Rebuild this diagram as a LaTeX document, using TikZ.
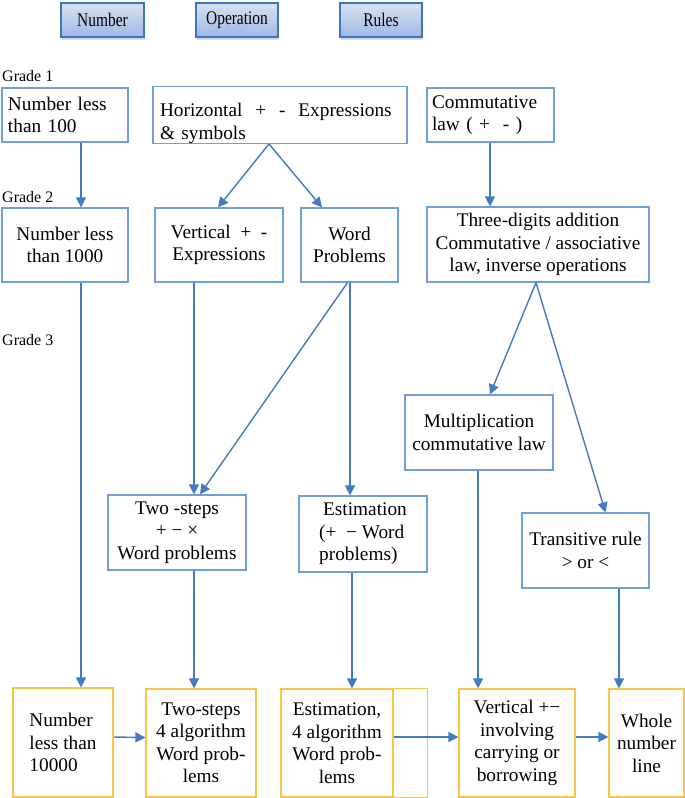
\documentclass[tikz,border=0pt]{standalone}
\usepackage{fontspec}
\setmainfont{Liberation Serif}
\usetikzlibrary{arrows.meta,shadows}
\definecolor{boxblue}{RGB}{112,160,216}
\definecolor{arrblue}{RGB}{68,122,192}
\definecolor{boxorange}{RGB}{250,196,72}
\definecolor{headtop}{RGB}{214,226,244}
\definecolor{headbot}{RGB}{160,184,226}
\definecolor{headline}{RGB}{58,118,188}
\begin{document}
\begin{tikzpicture}[x=1pt,y=-1pt,
    font=\fontsize{19.3}{22.5}\selectfont,
    head/.style={draw=headline,line width=2.5pt,top color=headtop,bottom color=headbot,
        minimum width=82pt,minimum height=34pt,inner sep=0pt,
        drop shadow={shadow xshift=1pt,shadow yshift=-3pt,opacity=0.3}},
    bbox/.style={draw=boxblue,line width=1.2pt,inner sep=0pt,align=center},
    ybox/.style={draw=boxorange,line width=1.2pt,inner sep=0pt,align=center},
    grade/.style={font=\fontsize{16}{18}\selectfont,anchor=west,inner sep=0pt},
    arr/.style={draw=arrblue,line width=1.4pt,-{Triangle[length=10pt,width=10pt]}}
]
\useasboundingbox (0,0) rectangle (685,798);

\node[head,minimum width=83pt] (hnum) at (102.5,20) {\scalebox{0.8}[1]{Number}};
\node[head] (hop) at (237,20) {\scalebox{0.8}[1]{Operation}};
\node[head] (hrul) at (381,20) {\scalebox{0.8}[1]{Rules}};

\node[grade] (g1) at (2,76) {Grade 1};
\node[grade] (g2) at (2,197) {Grade 2};
\node[grade] (g3) at (2,340) {Grade 3};

\node[bbox,align=left,inner xsep=6pt,text width=114pt,minimum height=54pt] (n100) at (65,115) {Number less\\than 100};
\node[bbox,align=left,inner xsep=7pt,text width=240pt,minimum height=54pt] (horiz) at (280,115) {\rule{0pt}{30pt}Horizontal\ \ +\ \ -\ \ Expressions\\\&\ symbols};
\node[bbox,align=left,inner xsep=5pt,text width=117pt,minimum height=54pt] (comm) at (490.5,115) {Commutative\\law ( +\ \ - )};

\node[bbox,minimum width=126pt,minimum height=74pt] (n1000) at (65,245) {Number less\\than 1000};
\node[bbox,minimum width=128pt,minimum height=74pt] (vert) at (219,245) {Vertical\ \ +\ \ -\\Expressions};
\node[bbox,minimum width=97pt,minimum height=74pt] (word) at (349.5,245) {Word\\Problems};
\node[bbox,minimum width=222pt,minimum height=75pt] (three) at (538,244.5) {Three-digits addition\\Commutative / associative\\law, inverse operations};

\node[bbox,minimum width=148pt,minimum height=75pt] (mult) at (479,432.5) {Multiplication\\commutative law};
\node[bbox,minimum width=138pt,minimum height=75pt] (two) at (177,532.5) {Two -steps\\+ − ×\\Word problems};
\node[bbox,align=left,minimum width=128pt,minimum height=76pt] (est) at (363,534) {\hspace*{4pt}Estimation\\(+\ \ − Word\\problems)};
\node[bbox,minimum width=127pt,minimum height=75pt] (trans) at (585.5,550.5) {Transitive rule\\> or <};

\node[ybox,align=left,minimum width=100pt,minimum height=109pt] (n10000) at (63,742.5) {Number\\less than\\10000};
\node[ybox,minimum width=110pt,minimum height=108pt] (two4) at (201,743) {Two-steps\\4 algorithm\\Word prob-\\lems};
\node[ybox,minimum width=112pt,minimum height=108pt] (est4) at (337,743) {Estimation,\\4 algorithm\\Word prob-\\lems};
\draw[draw=boxorange,line width=1.2pt] (est4.north east) rectangle ([xshift=34pt]est4.south east);
\node[ybox,minimum width=116pt,minimum height=108pt] (vplus) at (517,743) {Vertical +−\\involving\\carrying or\\borrowing};
\node[ybox,minimum width=75pt,minimum height=108pt] (whole) at (646.5,743) {Whole\\number\\line};

\draw[arr] ([xshift=16pt]n100.south) -- ([xshift=16pt]n1000.north);
\draw[arr] ([xshift=16pt]n1000.south) -- ([xshift=18pt]n10000.north);
\draw[arr] ([xshift=-11pt]horiz.south) -- ([xshift=-1pt]vert.north);
\draw[arr] ([xshift=-11pt]horiz.south) -- ([xshift=-27.5pt]word.north);
\draw[arr] ([xshift=-0.5pt]comm.south) -- ([xshift=-48pt]three.north);
\draw[arr] ([xshift=-25pt]vert.south) -- ([xshift=17pt]two.north);
\draw[arr] ([xshift=-2pt]word.south) -- ([xshift=23pt]two.north);
\draw[arr] ([xshift=0.5pt]word.south) -- ([xshift=-13pt]est.north);
\draw[arr] ([xshift=-2pt]three.south) -- ([xshift=11pt]mult.north);
\draw[arr] ([xshift=-2pt]three.south) -- ([xshift=20pt]trans.north);
\draw[arr] ([xshift=17pt]two.south) -- ([xshift=-7pt]two4.north);
\draw[arr] ([xshift=-11pt]est.south) -- ([xshift=15pt]est4.north);
\draw[arr] ([xshift=-1pt]mult.south) -- ([xshift=-39pt]vplus.north);
\draw[arr] ([xshift=33.5pt]trans.south) -- ([xshift=-27.5pt]whole.north);
\draw[arr] ([yshift=5.5pt]n10000.east) -- ([yshift=5.5pt]two4.west);
\draw[arr] ([yshift=6pt]est4.east) -- ([yshift=6pt]vplus.west);
\draw[arr] ([yshift=6pt]vplus.east) -- ([yshift=6pt]whole.west);
\end{tikzpicture}
\end{document}
